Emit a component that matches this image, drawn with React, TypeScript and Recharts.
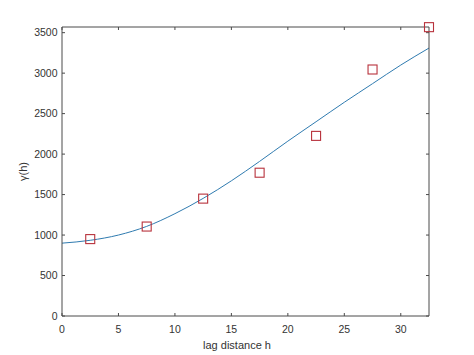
import React from 'react';
import { ComposedChart, Line, Scatter, XAxis, YAxis } from 'recharts';

const curveH = [0, 2.5, 5, 7.5, 10, 12.5, 15, 17.5, 20, 22.5, 25, 27.5, 30, 32.5];
const curveGamma = [900, 935, 1000, 1107, 1264, 1453, 1670, 1910, 2160, 2400, 2640, 2870, 3100, 3310];
const obsH = [2.5, 7.5, 12.5, 17.5, 22.5, 27.5, 32.5];
const obsGamma = [950, 1105, 1450, 1770, 2225, 3045, 3568];
const xTicks = [0, 5, 10, 15, 20, 25, 30];
const yTicks = [0, 500, 1000, 1500, 2000, 2500, 3000, 3500];

const curveData = curveH.map((h, i) => ({ h, g: curveGamma[i] }));
const obsData = obsH.map((h, i) => ({ h, g: obsGamma[i] }));

const AXIS = '#4a4a4a';
const TEXT = '#333333';
const FONT = '"Liberation Sans", Arial, sans-serif';
const tickStyle = { fill: TEXT, fontSize: 10.5, fontFamily: FONT };

const Square = (props: any) => {
  const { cx, cy } = props;
  if (cx == null || cy == null) return null;
  const s = 9;
  return <rect x={cx - s / 2} y={cy - s / 2} width={s} height={s} fill="none" stroke="#b8323c" strokeWidth={1.1} />;
};

export default function App() {
  return (
    <div style={{ position: 'absolute', left: 0, top: 0, width: 474, height: 355, background: '#fff' }}>
      <ComposedChart width={474} height={355} margin={{ top: 26, right: 44, left: 0, bottom: 0 }}>
        <XAxis
          xAxisId={0}
          dataKey="h"
          type="number"
          domain={[0, 32.5]}
          ticks={xTicks}
          height={39}
          tickSize={-3}
          tickMargin={13}
          stroke={AXIS}
          tick={tickStyle}
          axisLine={{ stroke: AXIS }}
          tickLine={{ stroke: AXIS }}
          label={(p: any) => {
            const vb = p.viewBox;
            return (
              <text x={237} y={vb.y + 33} textAnchor="middle" fill={TEXT} fontSize={11} fontFamily={FONT}>
                lag distance h
              </text>
            );
          }}
        />
        <XAxis
          xAxisId="top"
          dataKey="h"
          type="number"
          orientation="top"
          domain={[0, 32.5]}
          ticks={xTicks}
          height={1}
          tickSize={-3}
          tickFormatter={() => ''}
          stroke={AXIS}
          axisLine={{ stroke: AXIS }}
          tickLine={{ stroke: AXIS }}
        />
        <YAxis
          yAxisId={0}
          type="number"
          domain={[0, 3570]}
          ticks={yTicks}
          width={62}
          tickSize={-3}
          tickMargin={7.5}
          tick={tickStyle}
          stroke={AXIS}
          axisLine={{ stroke: AXIS }}
          tickLine={{ stroke: AXIS }}
          label={(p: any) => {
            const vb = p.viewBox;
            const cx = 23;
            const cy = vb.y + vb.height / 2;
            return (
              <text x={cx} y={cy} transform={`rotate(-90, ${cx}, ${cy})`} textAnchor="middle" dominantBaseline="central" fill={TEXT} fontSize={11} fontFamily={FONT}>
                γ(h)
              </text>
            );
          }}
        />
        <YAxis
          yAxisId="right"
          type="number"
          orientation="right"
          domain={[0, 3570]}
          ticks={yTicks}
          width={1}
          tickSize={-3}
          tickFormatter={() => ''}
          stroke={AXIS}
          axisLine={{ stroke: AXIS }}
          tickLine={{ stroke: AXIS }}
        />
        <Line
          data={curveData}
          dataKey="g"
          xAxisId="top"
          yAxisId="right"
          stroke="none"
          dot={false}
          activeDot={false}
          legendType="none"
          isAnimationActive={false}
        />
        <Line
          data={curveData}
          dataKey="g"
          type="monotone"
          stroke="#2f7bb0"
          strokeWidth={1}
          dot={false}
          activeDot={false}
          isAnimationActive={false}
        />
        <Scatter data={obsData} dataKey="g" shape={Square} isAnimationActive={false} />
      </ComposedChart>
    </div>
  );
}
